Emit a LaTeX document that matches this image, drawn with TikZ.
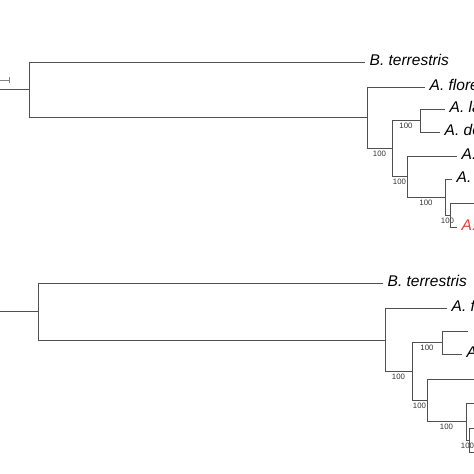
\documentclass[tikz,border=0pt]{standalone}
\usepackage{fontspec}
\setmainfont{Liberation Sans}
\definecolor{branch}{HTML}{505050}
\definecolor{hilite}{HTML}{E8403C}
\begin{document}
\begin{tikzpicture}[x=1pt,y=-1pt,
  br/.style={draw=branch,line width=0.9pt},
  taxon/.style={anchor=west,inner sep=0pt,xshift=4.5pt,text height=0.72em,text depth=0pt,
    font=\fontsize{15.5}{15.5}\selectfont\itshape},
  boot/.style={anchor=north,inner sep=0pt,yshift=-2.5pt,text=black!80,
    font=\fontsize{7.8}{8}\selectfont}]
\useasboundingbox (0,0) rectangle (474,474);
\clip (0,0) rectangle (474,474);

% ---------- top tree ----------
\coordinate (sb0) at (0,80);
\coordinate (sb1) at (9,80);
\coordinate (sbt) at (9,77);
\coordinate (sbb) at (9,83);
\draw[br,draw=branch!70] (sb0) -- (sb1);
\draw[br,draw=branch!70] (sbt) -- (sbb);

\coordinate (rs1) at (0,89.5);
\coordinate (r1) at (29,89.5);
\coordinate (a1) at (365,62);
\coordinate (a2) at (367,117);
\coordinate (a3) at (425,87);
\coordinate (a4) at (392,148);
\coordinate (a5) at (420,120.5);
\coordinate (a6) at (445,109);
\coordinate (a7) at (440,132);
\coordinate (a8) at (407,176.5);
\coordinate (a9) at (457,156);
\coordinate (a10) at (445,197);
\coordinate (a11) at (452,179);
\coordinate (a12) at (450,215);
\coordinate (a13) at (490,203);
\coordinate (a14) at (457,227);

\draw[br] (rs1) -- (r1);
\draw[br] (r1) |- (a1);
\draw[br] (r1) |- (a2);
\draw[br] (a2) |- (a3);
\draw[br] (a2) |- node[boot,pos=0.75]{100} (a4);
\draw[br] (a4) |- node[boot,pos=0.75]{100} (a5);
\draw[br] (a5) |- (a6);
\draw[br] (a5) |- (a7);
\draw[br] (a4) |- node[boot,pos=0.75]{100} (a8);
\draw[br] (a8) |- (a9);
\draw[br] (a8) |- node[boot,pos=0.75]{100} (a10);
\draw[br] (a10) |- (a11);
\draw[br] (a10) |- node[boot,pos=0.75]{100} (a12);
\draw[br] (a12) |- (a13);
\draw[br] (a12) |- (a14);

\node[taxon] (l1) at (a1) {B. terrestris};
\node[taxon] (l3) at (a3) {A. florea};
\node[taxon] (l6) at (a6) {A. laboriosa};
\node[taxon] (l7) at (a7) {A. dorsata};
\node[taxon] (l9) at (a9) {A. mellifera};
\node[taxon] (l11) at (a11) {A. koschevnikovi};
\node[taxon,text=hilite] (l14) at (a14) {A. cerana};

% ---------- bottom tree ----------
\coordinate (rs2) at (0,311);
\coordinate (r2) at (38,311);
\coordinate (b1) at (383,283);
\coordinate (b2) at (385,340);
\coordinate (b3) at (447,308);
\coordinate (b4) at (412,371.5);
\coordinate (b5) at (442,342.5);
\coordinate (b6) at (468,331);
\coordinate (b7) at (462,354);
\coordinate (b8) at (427,400.5);
\coordinate (b9) at (490,379);
\coordinate (b10) at (466,421.5);
\coordinate (b11) at (490,403);
\coordinate (b12) at (469,440);
\coordinate (b13) at (490,428);
\coordinate (b14) at (490,452);

\draw[br] (rs2) -- (r2);
\draw[br] (r2) |- (b1);
\draw[br] (r2) |- (b2);
\draw[br] (b2) |- (b3);
\draw[br] (b2) |- node[boot,pos=0.75]{100} (b4);
\draw[br] (b4) |- node[boot,pos=0.75]{100} (b5);
\draw[br] (b5) |- (b6);
\draw[br] (b5) |- (b7);
\draw[br] (b4) |- node[boot,pos=0.75]{100} (b8);
\draw[br] (b8) |- (b9);
\draw[br] (b8) |- node[boot,pos=0.75]{100} (b10);
\draw[br] (b10) |- (b11);
\draw[br] (b10) |- node[boot,pos=0.75]{100} (b12);
\draw[br] (b12) |- (b13);
\draw[br] (b12) |- (b14);

\node[taxon] (m1) at (b1) {B. terrestris};
\node[taxon] (m3) at (b3) {A. florea};
\node[taxon] (m7) at (b7) {A. dorsata};
\end{tikzpicture}
\end{document}
